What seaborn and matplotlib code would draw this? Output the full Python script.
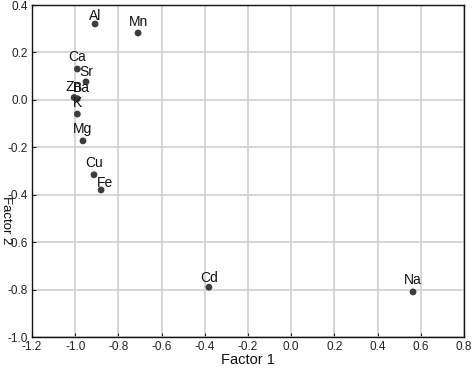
import matplotlib
matplotlib.use("Agg")
import matplotlib.pyplot as plt
import seaborn as sns
import pandas as pd

elements = ["Al", "Mn", "Ca", "Sr", "Zn", "Ba", "K", "Mg", "Cu", "Fe", "Cd", "Na"]
factor1 = [-0.908, -0.709, -0.99, -0.95, -1.005, -0.99, -0.99, -0.964, -0.913, -0.88, -0.381, 0.564]
factor2 = [0.32, 0.282, 0.13, 0.076, 0.01, 0.005, -0.06, -0.173, -0.316, -0.38, -0.79, -0.81]
# label offsets relative to points, in data units
label_dx = [0.0, 0.0, 0.0, 0.0, 0.0, 0.02, 0.0, 0.0, 0.0, 0.02, 0.0, 0.0]
label_dy = [0.035, 0.045, 0.05, 0.04, 0.045, 0.045, 0.048, 0.05, 0.05, 0.03, 0.04, 0.05]
xticks = [-1.2, -1.0, -0.8, -0.6, -0.4, -0.2, 0.0, 0.2, 0.4, 0.6, 0.8]
yticks = [-1.0, -0.8, -0.6, -0.4, -0.2, 0.0, 0.2, 0.4]

df = pd.DataFrame({"Element": elements, "Factor 1": factor1, "Factor 2": factor2})

sns.set_theme(style="whitegrid")
plt.rcParams["font.family"] = ["Liberation Sans", "DejaVu Sans"]

fig = plt.figure(figsize=(4.74, 3.74), dpi=100)
ax = fig.add_axes([32 / 474, 1 - 337 / 374, 432 / 474, 332 / 374])
sns.scatterplot(data=df, x="Factor 1", y="Factor 2", ax=ax, color="#3d3d3d",
                s=24, edgecolor="none", zorder=3)

for el, x, y, dx, dy in zip(elements, factor1, factor2, label_dx, label_dy):
    ax.text(x + dx, y + dy, el, ha="center", va="center", fontsize=10,
            color="#111111", zorder=4)

ax.set_xlim(-1.2, 0.8)
ax.set_ylim(-1.0, 0.4)
ax.set_xticks(xticks)
ax.set_yticks(yticks)
ax.set_xticklabels([f"{t:.1f}" for t in xticks])
ax.set_yticklabels([f"{t:.1f}" for t in yticks])
ax.grid(True, color="#cfcfcf", linewidth=1.2)
ax.tick_params(axis="both", direction="in", length=3, width=0.8, colors="#222222",
               labelsize=8.5, pad=3, bottom=True, left=True)
for sp in ax.spines.values():
    sp.set_color("#111111")
    sp.set_linewidth(1.0)
ax.set_xlabel("Factor 1", fontsize=10.5, labelpad=0, color="#111111")
ax.set_ylabel("")
fig.text(0 / 474, 1 - 220 / 374, "Factor 2", rotation=-90, ha="left", va="center",
         fontsize=9.5, color="#111111")

fig.savefig("out.png", dpi=100)
